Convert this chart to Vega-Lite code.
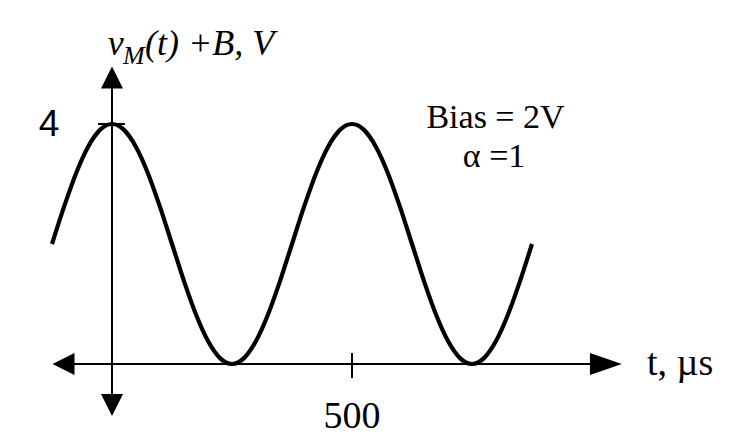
{
  "$schema": "https://vega.github.io/schema/vega-lite/v6.json",
  "description": "Biased cosine v_M(t)+B over time, textbook sketch",
  "width": 744,
  "height": 446,
  "autosize": "none",
  "padding": 0,
  "background": "white",
  "datasets": {
    "wave": [
      {"t": -125, "v": 2.0}, {"t": -100, "v": 2.618}, {"t": -75, "v": 3.176},
      {"t": -50, "v": 3.618}, {"t": -25, "v": 3.902}, {"t": 0, "v": 4.0},
      {"t": 25, "v": 3.902}, {"t": 50, "v": 3.618}, {"t": 75, "v": 3.176},
      {"t": 100, "v": 2.618}, {"t": 125, "v": 2.0}, {"t": 150, "v": 1.382},
      {"t": 175, "v": 0.824}, {"t": 200, "v": 0.382}, {"t": 225, "v": 0.098},
      {"t": 250, "v": 0.0}, {"t": 275, "v": 0.098}, {"t": 300, "v": 0.382},
      {"t": 325, "v": 0.824}, {"t": 350, "v": 1.382}, {"t": 375, "v": 2.0},
      {"t": 400, "v": 2.618}, {"t": 425, "v": 3.176}, {"t": 450, "v": 3.618},
      {"t": 475, "v": 3.902}, {"t": 500, "v": 4.0}, {"t": 525, "v": 3.902},
      {"t": 550, "v": 3.618}, {"t": 575, "v": 3.176}, {"t": 600, "v": 2.618},
      {"t": 625, "v": 2.0}, {"t": 650, "v": 1.382}, {"t": 675, "v": 0.824},
      {"t": 700, "v": 0.382}, {"t": 725, "v": 0.098}, {"t": 750, "v": 0.0},
      {"t": 775, "v": 0.098}, {"t": 800, "v": 0.382}, {"t": 825, "v": 0.824},
      {"t": 850, "v": 1.382}, {"t": 875, "v": 2.0}
    ],
    "hlines": [
      {"t": -115, "t2": 1000, "v": 0},
      {"t": -29, "t2": 27, "v": 4}
    ],
    "vlines": [
      {"t": 0, "v": -0.75, "v2": 4.85},
      {"t": 500, "v": -0.233, "v2": 0.183}
    ],
    "arrows": [
      {"t": 0, "v": 4.775, "dir": "up"},
      {"t": 0, "v": -0.683, "dir": "down"},
      {"t": -101, "v": 0, "dir": "left"},
      {"t": 1029, "v": 0, "dir": "right"}
    ],
    "labels": [
      {"id": "four", "t": -131, "v": 3.8, "text": "4"},
      {"id": "tick", "t": 500, "v": -1.067, "text": "500"},
      {"id": "xname", "t": 1114.6, "v": -0.183, "text": "t, µs"},
      {"id": "note", "t": 799, "v": 3.933, "text": "Bias = 2V"},
      {"id": "note", "t": 796, "v": 3.283, "text": "α =1"},
      {"id": "yv", "t": -9, "v": 5.15, "text": "v"},
      {"id": "yrest", "t": 68.75, "v": 5.15, "text": "(t) +B,  V"},
      {"id": "ysub", "t": 23, "v": 5.0, "text": "M"}
    ]
  },
  "encoding": {
    "x": {
      "field": "t",
      "type": "quantitative",
      "scale": {"domain": [-233.33, 1316.67], "nice": false, "zero": false},
      "axis": null
    },
    "y": {
      "field": "v",
      "type": "quantitative",
      "scale": {"domain": [-1.3667, 6.0667], "nice": false, "zero": false},
      "axis": null
    }
  },
  "layer": [
    {
      "data": {"name": "hlines"},
      "mark": {"type": "rule", "color": "black", "strokeWidth": 2},
      "encoding": {"x2": {"field": "t2"}}
    },
    {
      "data": {"name": "vlines"},
      "mark": {"type": "rule", "color": "black", "strokeWidth": 2},
      "encoding": {"y2": {"field": "v2"}}
    },
    {
      "data": {"name": "arrows"},
      "mark": {"type": "point", "filled": true, "color": "black", "opacity": 1, "size": 484, "strokeWidth": 0},
      "encoding": {
        "shape": {
          "field": "dir",
          "type": "nominal",
          "scale": {
            "domain": ["up", "down", "left", "right"],
            "range": [
              "M0,-1L1,1L-1,1Z",
              "M0,1L1,-1L-1,-1Z",
              "M-1,0L1,-1L1,1Z",
              "M1.45,0L-1.45,-1L-1.45,1Z"
            ]
          },
          "legend": null
        }
      }
    },
    {
      "data": {"name": "wave"},
      "mark": {"type": "line", "color": "black", "strokeWidth": 4.2, "interpolate": "monotone", "strokeCap": "butt"},
      "encoding": {}
    },
    {
      "data": {"name": "labels"},
      "transform": [{"filter": "datum.id == 'four'"}],
      "mark": {"type": "text", "font": "Liberation Sans", "fontSize": 37, "align": "center", "baseline": "alphabetic", "color": "black"},
      "encoding": {"text": {"field": "text"}}
    },
    {
      "data": {"name": "labels"},
      "transform": [{"filter": "datum.id == 'tick'"}],
      "mark": {"type": "text", "font": "Liberation Serif", "fontSize": 38, "align": "center", "baseline": "alphabetic", "color": "black"},
      "encoding": {"text": {"field": "text"}}
    },
    {
      "data": {"name": "labels"},
      "transform": [{"filter": "datum.id == 'xname'"}],
      "mark": {"type": "text", "font": "Liberation Serif", "fontSize": 38, "align": "left", "baseline": "alphabetic", "color": "black"},
      "encoding": {"text": {"field": "text"}}
    },
    {
      "data": {"name": "labels"},
      "transform": [{"filter": "datum.id == 'note'"}],
      "mark": {"type": "text", "font": "Liberation Serif", "fontSize": 34, "align": "center", "baseline": "alphabetic", "color": "black"},
      "encoding": {"text": {"field": "text"}}
    },
    {
      "data": {"name": "labels"},
      "transform": [{"filter": "datum.id == 'yv' || datum.id == 'yrest'"}],
      "mark": {"type": "text", "font": "Liberation Serif", "fontStyle": "italic", "fontSize": 36, "align": "left", "baseline": "alphabetic", "color": "black"},
      "encoding": {"text": {"field": "text"}}
    },
    {
      "data": {"name": "labels"},
      "transform": [{"filter": "datum.id == 'ysub'"}],
      "mark": {"type": "text", "font": "Liberation Serif", "fontStyle": "italic", "fontSize": 26, "align": "left", "baseline": "alphabetic", "color": "black"},
      "encoding": {"text": {"field": "text"}}
    }
  ],
  "config": {"view": {"stroke": null}}
}
